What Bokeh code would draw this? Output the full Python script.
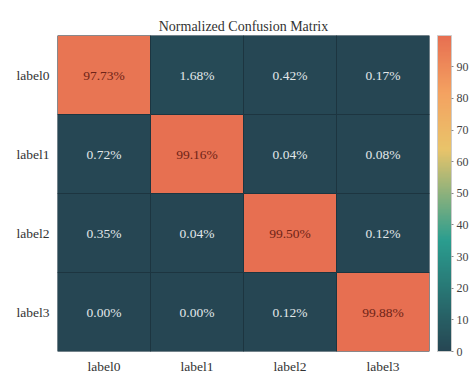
import numpy as np
from bokeh.plotting import figure
from bokeh.models import ColumnDataSource, LinearColorMapper, ColorBar, FixedTicker, FactorRange
from bokeh.core.properties import value
from bokeh.embed import file_html
from bokeh.resources import INLINE

labels = ["label0", "label1", "label2", "label3"]
row0 = [97.73, 1.68, 0.42, 0.17]
row1 = [0.72, 99.16, 0.04, 0.08]
row2 = [0.35, 0.04, 99.50, 0.12]
row3 = [0.00, 0.00, 0.12, 99.88]
rows = [row0, row1, row2, row3]
cbar_ticks = [0, 10, 20, 30, 40, 50, 60, 70, 80, 90]

# palette
stops = [(0.0, "#264653"), (0.35, "#2a9d8f"), (0.64, "#e9c46a"), (0.82, "#f4a261"), (1.0, "#e76f51")]
def hex2rgb(h):
    return np.array([int(h[i:i+2], 16) for i in (1, 3, 5)], dtype=float)
palette = []
for t in np.linspace(0, 1, 256):
    for (p0, c0), (p1, c1) in zip(stops[:-1], stops[1:]):
        if p0 <= t <= p1:
            f = (t - p0) / (p1 - p0)
            c = hex2rgb(c0) * (1 - f) + hex2rgb(c1) * f
            palette.append("#%02x%02x%02x" % tuple(int(round(v)) for v in c))
            break

xs, ys, vals, txt, tcol = [], [], [], [], []
for i, r in enumerate(rows):
    for j, v in enumerate(r):
        xs.append(labels[j]); ys.append(labels[i]); vals.append(v)
        txt.append("%.2f%%" % v)
        tcol.append("#6e2417" if v > 50 else "#e2e8ea")
src = ColumnDataSource(dict(x=xs, y=ys, v=vals, t=txt, tc=tcol))

mapper = LinearColorMapper(palette=palette, low=0, high=99.88)
serif = "Liberation Serif"

p = figure(width=474, height=376, x_range=FactorRange(*labels), y_range=FactorRange(*labels[::-1]),
           output_backend="svg", toolbar_location=None, title="Normalized Confusion Matrix",
           min_border_left=57, min_border_right=45, min_border_top=35, min_border_bottom=22)
p.rect(x="x", y="y", width=1, height=1, source=src, fill_color={"field": "v", "transform": mapper},
       line_color="#1d3540", line_width=1)
p.text(x="x", y="y", text="t", source=src, text_color="tc", text_align="center", text_baseline="middle",
       text_font=value(serif), text_font_size="13.5px")

p.title.text_font = serif
p.title.text_font_style = "normal"
p.title.text_font_size = "14px"
p.title.text_color = "#333333"
p.title.align = "center"
p.title.standoff = 3

for ax in (p.xaxis, p.yaxis):
    ax.axis_line_color = None
    ax.major_tick_line_color = None
    ax.minor_tick_line_color = None
    ax.major_label_text_font = serif
    ax.major_label_text_font_size = "13.5px"
    ax.major_label_text_color = "#333333"
p.xaxis.major_label_standoff = 1
p.yaxis.major_label_standoff = 2
p.grid.grid_line_color = None
p.outline_line_color = None

cb = ColorBar(color_mapper=mapper, ticker=FixedTicker(ticks=cbar_ticks), width=14, margin=0, padding=0,
              location=(8, 0),
              major_label_text_font=serif, major_label_text_font_size="12px", major_label_text_color="#444444",
              major_tick_line_color="#888888", major_tick_in=0, major_tick_out=2, label_standoff=3,
              bar_line_color="#cccccc", border_line_color=None, background_fill_color=None)
p.add_layout(cb, "right")

open("out.html", "w").write(file_html(p, INLINE))
